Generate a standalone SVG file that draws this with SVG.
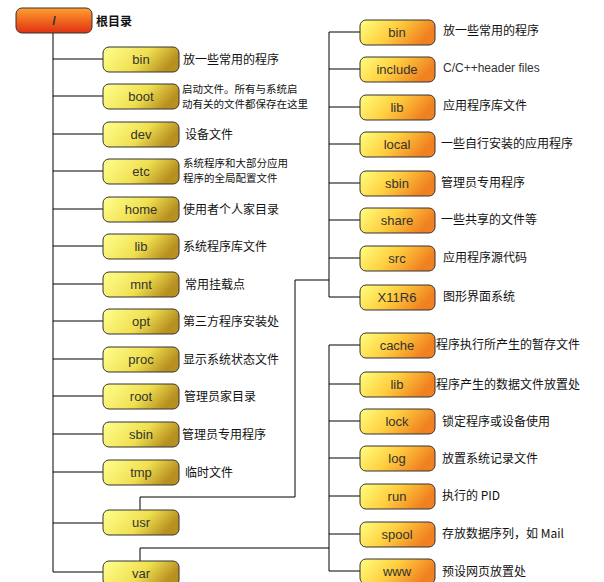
<svg xmlns="http://www.w3.org/2000/svg" width="604" height="582" viewBox="0 0 604 582">
<defs>
<linearGradient id="gl" x1="0" y1="0" x2="1" y2="0.3"><stop offset="0" stop-color="#ffff90"/><stop offset="0.6" stop-color="#f0e050"/><stop offset="1" stop-color="#b89020"/></linearGradient>
<linearGradient id="gr" x1="0" y1="0" x2="1" y2="0.3"><stop offset="0" stop-color="#ffff80"/><stop offset="0.5" stop-color="#ffd040"/><stop offset="1" stop-color="#f08020"/></linearGradient>
<linearGradient id="groot" x1="0" y1="0" x2="0" y2="1"><stop offset="0" stop-color="#ffa030"/><stop offset="1" stop-color="#e03010"/></linearGradient>
</defs>
<style>
.l{fill:url(#gl);stroke:#333;stroke-width:1}
.r{fill:url(#gr);stroke:#333;stroke-width:1}
.n{font-family:"Liberation Sans",Arial,sans-serif;font-size:13px;fill:#333;text-anchor:middle}
.d{font-family:"Noto Sans CJK SC","Liberation Sans",sans-serif;font-size:12px;fill:#111}
.s{font-size:10.5px}
.c{stroke:#000;stroke-width:1;fill:none}
</style>
<rect width="604" height="582" fill="#fff"/>
<g id="connectors" class="c">
<path d="M53 32V572"/>
<path d="M53 59H103M53 96H103M53 134H103M53 171H103M53 209H103M53 246H103M53 284H103M53 321H103M53 359H103M53 396H103M53 434H103M53 472H103M53 523H103M53 572H103"/>
<path d="M140 510V497H295V280H329"/>
<path d="M329 32V297M329 32H360M329 69H360M329 107H360M329 144H360M329 183H360M329 220H360M329 258H360M329 297H360"/>
<path d="M140 561V548H329"/>
<path d="M329 345V571M329 345H360M329 384H360M329 421H360M329 458H360M329 496H360M329 534H360M329 571H360"/>
</g>
<g id="root"><rect x="16" y="8" width="76" height="25" rx="6" fill="url(#groot)" stroke="#333"/><text class="n" x="54" y="25" style="font-weight:bold">/</text><text class="d" x="96" y="26" style="font-weight:bold">根目录</text></g>
<g id="bin"><rect class="l" x="103" y="47" width="76" height="25" rx="6"/><text class="n" x="141" y="64">bin</text><text class="d" x="183" y="64">放一些常用的程序</text></g>
<g id="boot"><rect class="l" x="103" y="84" width="76" height="25" rx="6"/><text class="n" x="141" y="101">boot</text><text class="d s" x="182" y="93">启动文件。所有与系统启</text><text class="d s" x="182" y="108">动有关的文件都保存在这里</text></g>
<g id="dev"><rect class="l" x="103" y="122" width="76" height="25" rx="6"/><text class="n" x="141" y="139">dev</text><text class="d" x="185" y="139">设备文件</text></g>
<g id="etc"><rect class="l" x="103" y="159" width="76" height="25" rx="6"/><text class="n" x="141" y="176">etc</text><text class="d s" x="183" y="167">系统程序和大部分应用</text><text class="d s" x="183" y="182">程序的全局配置文件</text></g>
<g id="home"><rect class="l" x="103" y="197" width="76" height="25" rx="6"/><text class="n" x="141" y="214">home</text><text class="d" x="183" y="214">使用者个人家目录</text></g>
<g id="lib"><rect class="l" x="103" y="234" width="76" height="25" rx="6"/><text class="n" x="141" y="251">lib</text><text class="d" x="183" y="251">系统程序库文件</text></g>
<g id="mnt"><rect class="l" x="103" y="272" width="76" height="25" rx="6"/><text class="n" x="141" y="289">mnt</text><text class="d" x="185" y="289">常用挂载点</text></g>
<g id="opt"><rect class="l" x="103" y="309" width="76" height="25" rx="6"/><text class="n" x="141" y="326">opt</text><text class="d" x="183" y="326">第三方程序安装处</text></g>
<g id="proc"><rect class="l" x="103" y="347" width="76" height="25" rx="6"/><text class="n" x="141" y="364">proc</text><text class="d" x="183" y="364">显示系统状态文件</text></g>
<g id="root-dir"><rect class="l" x="103" y="384" width="76" height="25" rx="6"/><text class="n" x="141" y="401">root</text><text class="d" x="184" y="401">管理员家目录</text></g>
<g id="sbin"><rect class="l" x="103" y="422" width="76" height="25" rx="6"/><text class="n" x="141" y="439">sbin</text><text class="d" x="182" y="439">管理员专用程序</text></g>
<g id="tmp"><rect class="l" x="103" y="460" width="76" height="25" rx="6"/><text class="n" x="141" y="477">tmp</text><text class="d" x="185" y="477">临时文件</text></g>
<g id="usr"><rect class="l" x="103" y="510" width="76" height="25" rx="6"/><text class="n" x="141" y="527">usr</text></g>
<g id="var"><rect class="l" x="103" y="561" width="76" height="25" rx="6"/><text class="n" x="141" y="578">var</text></g>
<g id="usr-bin"><rect class="r" x="360" y="20" width="75" height="25" rx="6"/><text class="n" x="397" y="37">bin</text><text class="d" x="443" y="35">放一些常用的程序</text></g>
<g id="usr-include"><rect class="r" x="360" y="57" width="75" height="25" rx="6"/><text class="n" x="397" y="74">include</text><text class="d" x="443" y="72" style="font-family:'Liberation Sans',sans-serif;fill:#333">C/C++header files</text></g>
<g id="usr-lib"><rect class="r" x="360" y="95" width="75" height="25" rx="6"/><text class="n" x="397" y="112">lib</text><text class="d" x="443" y="110">应用程序库文件</text></g>
<g id="usr-local"><rect class="r" x="360" y="132" width="75" height="25" rx="6"/><text class="n" x="397" y="149">local</text><text class="d" x="441" y="148">一些自行安装的应用程序</text></g>
<g id="usr-sbin"><rect class="r" x="360" y="171" width="75" height="25" rx="6"/><text class="n" x="397" y="188">sbin</text><text class="d" x="441" y="187">管理员专用程序</text></g>
<g id="usr-share"><rect class="r" x="360" y="208" width="75" height="25" rx="6"/><text class="n" x="397" y="225">share</text><text class="d" x="441" y="224">一些共享的文件等</text></g>
<g id="usr-src"><rect class="r" x="360" y="246" width="75" height="25" rx="6"/><text class="n" x="397" y="263">src</text><text class="d" x="443" y="262">应用程序源代码</text></g>
<g id="usr-X11R6"><rect class="r" x="360" y="285" width="75" height="25" rx="6"/><text class="n" x="397" y="302">X11R6</text><text class="d" x="443" y="301">图形界面系统</text></g>
<g id="var-cache"><rect class="r" x="360" y="333" width="75" height="25" rx="6"/><text class="n" x="397" y="350">cache</text><text class="d" x="436" y="349">程序执行所产生的暂存文件</text></g>
<g id="var-lib"><rect class="r" x="360" y="372" width="75" height="25" rx="6"/><text class="n" x="397" y="389">lib</text><text class="d" x="436" y="389">程序产生的数据文件放置处</text></g>
<g id="var-lock"><rect class="r" x="360" y="409" width="75" height="25" rx="6"/><text class="n" x="397" y="426">lock</text><text class="d" x="442" y="426">锁定程序或设备使用</text></g>
<g id="var-log"><rect class="r" x="360" y="446" width="75" height="25" rx="6"/><text class="n" x="397" y="463">log</text><text class="d" x="442" y="463">放置系统记录文件</text></g>
<g id="var-run"><rect class="r" x="360" y="484" width="75" height="25" rx="6"/><text class="n" x="397" y="501">run</text><text class="d" x="442" y="500">执行的 PID</text></g>
<g id="var-spool"><rect class="r" x="360" y="522" width="75" height="25" rx="6"/><text class="n" x="397" y="539">spool</text><text class="d" x="442" y="538">存放数据序列，如 Mail</text></g>
<g id="var-www"><rect class="r" x="360" y="559" width="75" height="25" rx="6"/><text class="n" x="397" y="576">www</text><text class="d" x="442" y="576">预设网页放置处</text></g>
</svg>
